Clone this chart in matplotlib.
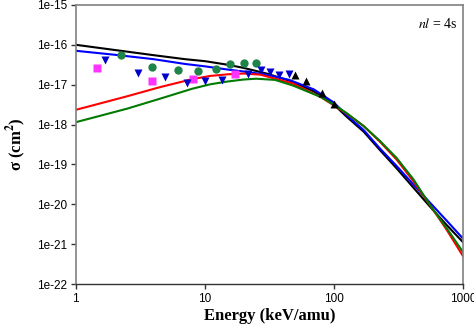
import numpy as np
import matplotlib
matplotlib.use('Agg')
import matplotlib.pyplot as plt
from matplotlib.ticker import FixedLocator, FixedFormatter, NullLocator

plt.rcParams['mathtext.fontset'] = 'stix'

# theory curves (energy keV/amu, log10 sigma)
e_black = [1, 2, 4, 7, 10, 15, 20, 30, 45, 70, 100, 125, 170, 227, 306, 412, 555, 747, 1000]
s_black = [-16.00, -16.13, -16.26, -16.36, -16.41, -16.50, -16.58, -16.72, -16.90, -17.17, -17.50, -17.80,
           -18.18, -18.64, -19.10, -19.58, -20.06, -20.52, -20.95]

e_blue = [1, 2, 4, 7, 10, 15, 20, 30, 45, 70, 100, 125, 170, 227, 306, 412, 555, 747, 1000]
s_blue = [-16.15, -16.25, -16.36, -16.48, -16.54, -16.62, -16.67, -16.75, -16.88, -17.12, -17.45, -17.76,
          -18.14, -18.60, -19.04, -19.50, -19.96, -20.41, -20.86]

e_red = [1, 1.5, 2.5, 4.5, 8, 11, 15, 20, 27, 48, 78, 100, 125, 170, 227, 306, 412, 555, 747, 1000]
s_red = [-17.63, -17.48, -17.29, -17.06, -16.86, -16.78, -16.74, -16.72, -16.75, -16.97, -17.30, -17.52,
         -17.72, -18.04, -18.43, -18.88, -19.42, -20.02, -20.64, -21.30]

e_green = [1, 1.5, 2.5, 4.5, 8, 11, 15, 20, 25, 35, 48, 78, 100, 125, 170, 227, 306, 412, 555, 747, 1000]
s_green = [-17.94, -17.79, -17.60, -17.35, -17.10, -16.99, -16.92, -16.87, -16.85, -16.88, -17.02, -17.30,
           -17.50, -17.71, -18.04, -18.41, -18.84, -19.37, -20.02, -20.60, -21.20]

# experimental points
e_sq = [1.45, 3.9, 8.03, 17.1]
s_sq = [2.6e-17, 1.24e-17, 1.38e-17, 1.9e-17]

e_circ = [2.23, 3.88, 6.14, 8.78, 12.2, 15.6, 20.1, 24.7]
s_circ = [5.4e-17, 2.8e-17, 2.4e-17, 2.2e-17, 2.45e-17, 3.27e-17, 3.5e-17, 3.4e-17]

e_tri = [1.68, 3.04, 4.9, 7.29, 10, 13.5, 21.7, 27.0, 31.9, 37.7, 44.8]
s_tri = [4.1e-17, 1.97e-17, 1.6e-17, 1.1e-17, 1.24e-17, 1.29e-17, 1.9e-17, 2.4e-17, 2.1e-17, 1.8e-17, 1.9e-17]

e_up = [49.9, 60.3, 81.2, 100]
s_up = [1.8e-17, 1.24e-17, 6.2e-18, 3.3e-18]

y_ticks = [1e-22, 1e-21, 1e-20, 1e-19, 1e-18, 1e-17, 1e-16, 1e-15]
y_labels = ['1e-22', '1e-21', '1e-20', '1e-19', '1e-18', '1e-17', '1e-16', '1e-15']
x_ticks = [1, 10, 100, 1000]
x_labels = ['1', '10', '100', '1000']

fig = plt.figure(figsize=(4.74, 3.27), dpi=100)
ax = fig.add_axes([0.160, 0.131, 0.817, 0.854])

lw = 1.5
ax.plot(e_black, 10 ** np.array(s_black), color='black', lw=lw)
ax.plot(e_blue, 10 ** np.array(s_blue), color='#0000ff', lw=lw)
ax.plot(e_red, 10 ** np.array(s_red), color='#ff0000', lw=lw)
ax.plot(e_green, 10 ** np.array(s_green), color='#007a00', lw=lw)

ax.plot(e_sq, s_sq, 's', color='#ff33ff', ms=5.5, mec='none')
ax.plot(e_circ, s_circ, 'o', color='#1e8449', ms=6, mec='none')
ax.plot(e_tri, s_tri, 'v', color='#0000cc', ms=6, mec='none')
ax.plot(e_up, s_up, '^', color='black', ms=6, mec='none')

ax.set_xscale('log')
ax.set_yscale('log')
ax.set_xlim(1, 1000)
ax.set_ylim(1e-22, 1e-15)

ax.yaxis.set_major_locator(FixedLocator(y_ticks))
ax.yaxis.set_major_formatter(FixedFormatter(y_labels))
ax.yaxis.set_minor_locator(NullLocator())
ax.xaxis.set_major_locator(FixedLocator(x_ticks))
ax.xaxis.set_major_formatter(FixedFormatter(x_labels))
ax.xaxis.set_minor_locator(NullLocator())

for t in ax.get_xticklabels() + ax.get_yticklabels():
    t.set_family('Liberation Sans')
    t.set_fontsize(8.5)
ax.tick_params(direction='out', length=3.5, width=1, color='#333333', pad=3)

for side in ['left', 'top', 'right']:
    ax.spines[side].set_color('#808080')
    ax.spines[side].set_linewidth(1.2)
ax.spines['bottom'].set_color('#333333')
ax.spines['bottom'].set_linewidth(1.0)

ax.set_xlabel('Energy (keV/amu)', family='Liberation Serif', fontweight='bold', fontsize=12, labelpad=2)
ax.set_ylabel(r'σ (cm$^{\mathbf{2}}$)', family='Liberation Serif', fontweight='bold', fontsize=12, labelpad=6)

ax.text(0.985, 0.955, r'$nl$ = 4s', transform=ax.transAxes, ha='right', va='top',
        family='Liberation Serif', fontsize=10)

fig.savefig('out.png', dpi=100)
